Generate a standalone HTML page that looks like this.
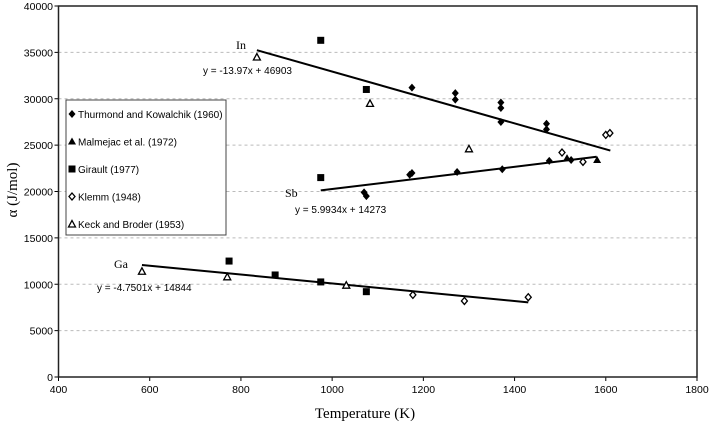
<!DOCTYPE html>
<html><head><meta charset="utf-8"><style>
body{margin:0;background:#fff;}
svg{display:block;font-family:"Liberation Sans",Arial,sans-serif;}
.serif{font-family:"Liberation Serif","Times New Roman",serif;}
</style></head><body>
<svg id="chart" width="709" height="426" viewBox="0 0 709 426"></svg>
<script>
const xTicks=[400,600,800,1000,1200,1400,1600,1800];
const yTicks=[0,5000,10000,15000,20000,25000,30000,35000,40000];
const thurmondX=[1175,1270,1270,1370,1370,1370,1470,1470,1070,1075,1170,1175,1274,1373,1476,1524];
const thurmondY=[31200,30600,29900,29600,29000,27500,27300,26700,19900,19500,21800,22000,22100,22400,23300,23400];
const malmejacX=[1515,1581];
const malmejacY=[23600,23400];
const giraultX=[975,1075,975,774,875,975,1075];
const giraultY=[36300,31000,21500,12500,11000,10250,9200];
const klemmX=[1504,1550,1600,1609,1177,1290,1430];
const klemmY=[24200,23200,26100,26300,8850,8200,8600];
const keckX=[835,1083,1300,583,770,1031];
const keckY=[34500,29500,24600,11400,10800,9900];
const fitSlope=[-13.97,5.9934,-4.7501];
const fitIntercept=[46903,14273,14844];
const fitFrom=[835,975,583];
const fitTo=[1610,1580,1430];
const fitNames=['In','Sb','Ga'];
const fitLabels=['y = -13.97x + 46903','y = 5.9934x + 14273','y = -4.7501x + 14844'];

const X0=58.5,X1=697,Y0=377,Y1=6;
const sx=v=>X0+(v-400)/1400*(X1-X0);
const sy=v=>Y0-v/40000*(Y0-Y1);
const svg=document.getElementById('chart');
const NS='http://www.w3.org/2000/svg';
function mk(t,a,p){const e=document.createElementNS(NS,t);for(const k in a)e.setAttribute(k,a[k]);(p||svg).appendChild(e);return e;}

const bg=mk('rect',{x:X0,y:Y1,width:X1-X0,height:Y0-Y1,fill:'#fff',stroke:'none'});


yTicks.forEach(v=>{
  if(v>0&&v<40000){const g=mk('line',{x1:X0,x2:X1,y1:sy(v),y2:sy(v),stroke:'#bbb','stroke-dasharray':'3,3'});
  
  }
  const tk=mk('line',{x1:X0-4,x2:X0,y1:sy(v),y2:sy(v),stroke:'#000'});
  
  
  const t=mk('text',{x:53,y:sy(v)+4,'text-anchor':'end','font-size':10.5,fill:'#000'});t.textContent=v;
  
  
});
xTicks.forEach(v=>{
  const tk=mk('line',{x1:sx(v),x2:sx(v),y1:Y0,y2:Y0+4,stroke:'#000'});
  
  
  const t=mk('text',{x:sx(v),y:393,'text-anchor':'middle','font-size':10.5});t.textContent=v;
  
  
});
const fr=mk('rect',{x:X0,y:Y1,width:X1-X0,height:Y0-Y1,fill:'none',stroke:'#222','stroke-width':1.5});



const lblPos=[[236,49,203,74],[285,197,295,213],[114,268,97,291]];
fitSlope.forEach((m,i)=>{
  const l=mk('line',{x1:sx(fitFrom[i]),y1:sy(m*fitFrom[i]+fitIntercept[i]),x2:sx(fitTo[i]),y2:sy(m*fitTo[i]+fitIntercept[i]),stroke:'#000','stroke-width':2});
  
  
  const n=mk('text',{x:lblPos[i][0],y:lblPos[i][1],'font-size':12,class:'serif'});n.textContent=fitNames[i];
  
  
  const e=mk('text',{x:lblPos[i][2],y:lblPos[i][3],'font-size':10});e.textContent=fitLabels[i];
  
  
});

function marker(type,x,y,p){
  let e;
  if(type==='diamond')e=mk('polygon',{points:`${x},${y-4} ${x+3.5},${y} ${x},${y+4} ${x-3.5},${y}`,fill:'#000'},p);
  else if(type==='odiamond')e=mk('polygon',{points:`${x},${y-3.5} ${x+3},${y} ${x},${y+3.5} ${x-3},${y}`,fill:'#fff',stroke:'#000','stroke-width':1.3},p);
  else if(type==='tri')e=mk('polygon',{points:`${x},${y-4} ${x+4},${y+3} ${x-4},${y+3}`,fill:'#000'},p);
  else if(type==='otri')e=mk('polygon',{points:`${x},${y-3.5} ${x+3.5},${y+3} ${x-3.5},${y+3}`,fill:'#fff',stroke:'#000','stroke-width':1.3},p);
  else e=mk('rect',{x:x-3.5,y:y-3.5,width:7,height:7,fill:'#000'},p);
  return e;
}
const series=[['diamond',thurmondX,thurmondY,'thurmond'],['tri',malmejacX,malmejacY,'malmejac'],['square',giraultX,giraultY,'girault'],['odiamond',klemmX,klemmY,'klemm'],['otri',keckX,keckY,'keck']];
series.forEach(s=>{s[1].forEach((v,i)=>{const e=marker(s[0],sx(v),sy(s[2][i]));
  
  });});

const lg=mk('g',{});


mk('rect',{x:66,y:100,width:160,height:135,fill:'#fff',stroke:'#444','stroke-width':1},lg);
const legNames=['Thurmond and Kowalchik (1960)','Malmejac et al. (1972)','Girault (1977)','Klemm (1948)','Keck and Broder (1953)'];
legNames.forEach((n,i)=>{const y=114+i*27.5;
  const g=mk('g',{},lg);
  
  
  marker(series[i][0],72,y,g);
  const t=mk('text',{x:78,y:y+4,'font-size':10},g);t.textContent=n;});

const xt=mk('text',{x:365,y:418,'text-anchor':'middle','font-size':15,class:'serif'});xt.textContent='Temperature (K)';


const yt=mk('text',{x:0,y:0,'text-anchor':'middle','font-size':15,class:'serif',transform:'translate(17,190) rotate(-90)'});yt.textContent='α (J/mol)';


</script>
</body></html>
